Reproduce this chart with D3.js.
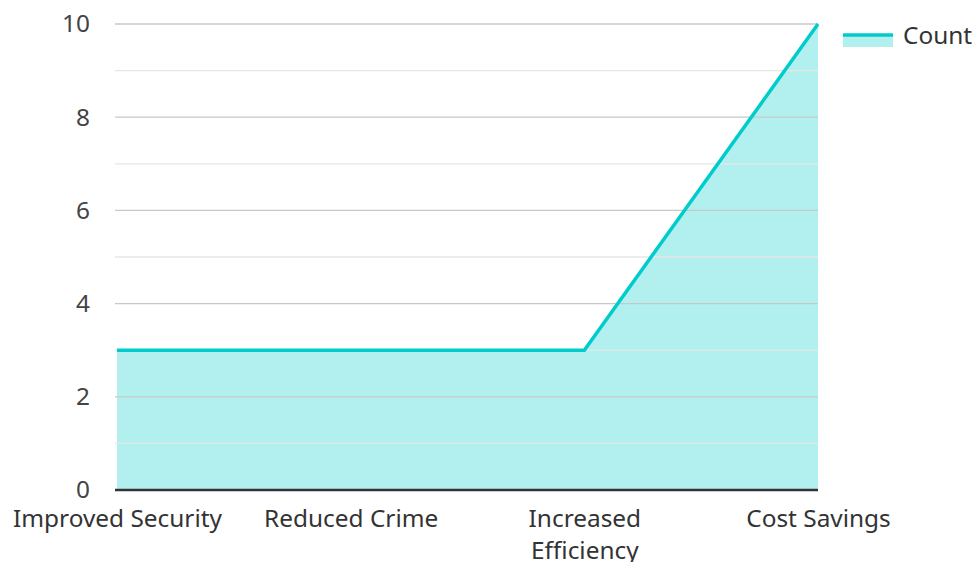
<!DOCTYPE html>
<html>
<head>
<meta charset="utf-8">
<script src="https://cdn.jsdelivr.net/npm/d3@7"></script>
<style>
  body { margin: 0; background: #fff; }
  text { font-family: "Noto Sans", sans-serif; }
</style>
</head>
<body>
<script>
var categories = ["Improved Security", "Reduced Crime", "Increased Efficiency", "Cost Savings"];
var counts = [3, 3, 3, 10];
var yTicks = [0, 2, 4, 6, 8, 10];
var seriesName = "Count";

var width = 975;
var height = 562;
var plotLeft = 117, plotRight = 818, plotTop = 24, plotBottom = 490;
var lineColor = "#00cccc";
var fontSize = 24.4;

var data = categories.map(function (c, i) { return { cat: c, value: counts[i] }; });

var svg = d3.select("body").append("svg")
    .attr("width", width)
    .attr("height", height);

var x = d3.scalePoint().domain(categories).range([plotLeft, plotRight]);
var y = d3.scaleLinear().domain([0, 10]).range([plotBottom, plotTop]);

// area first, grid drawn over it
var area = d3.area()
    .x(d => x(d.cat))
    .y0(y(0))
    .y1(d => y(d.value));

svg.append("path")
    .datum(data)
    .attr("fill", lineColor)
    .attr("fill-opacity", 0.3)
    .attr("d", area);

// grid lines, lighter at odd values
var grid = svg.append("g");
d3.range(1, 11).forEach(function (v) {
    grid.append("line")
        .attr("x1", plotLeft - 2)
        .attr("x2", plotRight)
        .attr("y1", y(v))
        .attr("y2", y(v))
        .attr("stroke", v % 2 === 0 ? "#c8c8c8" : "#e6e6e6")
        .attr("stroke-width", 1.3);
});

var yAxis = d3.axisLeft(y).tickValues(yTicks).tickSize(0).tickPadding(27);
var yg = svg.append("g")
    .attr("transform", "translate(" + plotLeft + ",0)")
    .call(yAxis);
yg.select(".domain").remove();
yg.selectAll("text")
    .attr("font-family", "Noto Sans")
    .attr("font-size", fontSize)
    .attr("fill", "#444");

var line = d3.line()
    .x(d => x(d.cat))
    .y(d => y(d.value));

svg.append("path")
    .datum(data)
    .attr("fill", "none")
    .attr("stroke", lineColor)
    .attr("stroke-width", 3.5)
    .attr("d", line);

// x axis
var xAxis = d3.axisBottom(x).tickSize(0).tickPadding(0);
var xg = svg.append("g")
    .attr("transform", "translate(0," + plotBottom + ")")
    .call(xAxis);
xg.select(".domain")
    .attr("d", "M" + (plotLeft - 2) + ",0H" + plotRight)
    .attr("stroke", "#333")
    .attr("stroke-width", 2.5);
xg.selectAll("text")
    .attr("font-family", "Noto Sans")
    .attr("font-size", fontSize)
    .attr("fill", "#333")
    .attr("dy", null)
    .attr("y", 0)
    .each(function (d) {
        var t = d3.select(this);
        var words = d.split(" ");
        var lines = [];
        var cur = "";
        words.forEach(function (w) {
            var test = cur ? cur + " " + w : w;
            t.text(test);
            if (cur && t.node().getComputedTextLength() > 218) {
                lines.push(cur);
                cur = w;
            } else {
                cur = test;
            }
        });
        lines.push(cur);
        t.text(null);
        lines.forEach(function (l, i) {
            t.append("tspan").attr("x", 0).attr("y", 37 + i * 32).text(l);
        });
    });

// legend
var lg = svg.append("g").attr("transform", "translate(843,35)");
lg.append("rect")
    .attr("x", 0).attr("y", 0).attr("width", 50).attr("height", 12)
    .attr("fill", lineColor).attr("fill-opacity", 0.3);
lg.append("line")
    .attr("x1", 0).attr("x2", 50).attr("y1", 0).attr("y2", 0)
    .attr("stroke", lineColor).attr("stroke-width", 3.5);
lg.append("text")
    .attr("x", 60).attr("y", 9)
    .attr("font-size", fontSize)
    .attr("fill", "#333")
    .text(seriesName);
</script>
</body>
</html>
